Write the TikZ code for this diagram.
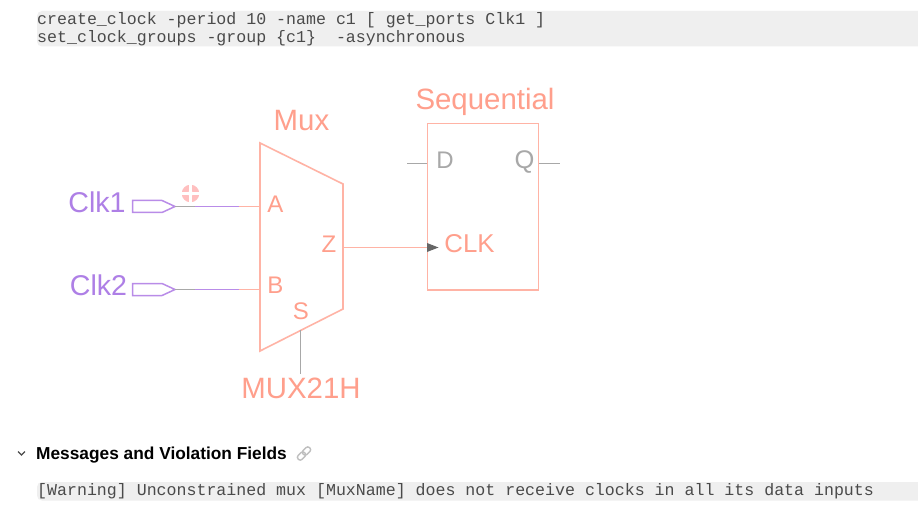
\documentclass[tikz,border=0pt]{standalone}
\usepackage{fontspec}
\setmainfont{Liberation Sans}
\setmonofont{Liberation Mono}
\definecolor{sal}{HTML}{FFB3A5}
\definecolor{saltxt}{HTML}{FF9F8C}
\definecolor{pur}{HTML}{B98CE8}
\definecolor{purtxt}{HTML}{AE7FE6}
\definecolor{gry}{HTML}{A8A8A8}
\definecolor{codebg}{HTML}{EFEFEF}
\definecolor{codetxt}{HTML}{4A4A4A}
\tikzset{
  lbl/.style={inner sep=0pt,anchor=base,font=\fontsize{24}{24}\selectfont},
  biglbl/.style={inner sep=0pt,anchor=base,font=\fontsize{29.4}{29.4}\selectfont},
  clklbl/.style={inner sep=0pt,anchor=base,text=purtxt,font=\fontsize{28.6}{29}\selectfont},
  sallbl/.style={lbl,text=saltxt},
  grylbl/.style={lbl,text=gry},
  code/.style={inner sep=0pt,anchor=base west,text=codetxt,font=\ttfamily\fontsize{16.6}{16.6}\selectfont},
  salline/.style={draw=sal,line width=1.6pt},
  purline/.style={draw=pur,line width=1.6pt},
  gryline/.style={draw=gry,line width=1.6pt},
  port/.style={draw=pur,line width=1.5pt,fill=white,line join=miter}
}
\begin{document}
\begin{tikzpicture}[x=1pt,y=-1pt]
\useasboundingbox (0,0) rectangle (918,513);
\fill[white] (0,0) rectangle (918,513);
% code blocks
\fill[codebg,rounded corners=5pt] (37,11) rectangle (930,46.5);
\node[code] (cmdone) at (37,24.7) {create\_clock -period 10 -name c1 [ get\_ports Clk1 ]};
\node[code] (cmdtwo) at (37,42.7) {set\_clock\_groups -group \{c1\}~~-asynchronous};
\fill[codebg,rounded corners=5pt] (37,482) rectangle (930,500.5);
\node[code] (warn) at (37,495.5) {[Warning] Unconstrained mux [MuxName] does not receive clocks in all its data inputs};
% heading
\draw[draw=black!70,line width=1.1pt] (18,451.5) -- (21.5,455) -- (25,451.5);
\node[inner sep=0pt,anchor=base west,font=\bfseries\fontsize{17.3}{18}\selectfont] (head) at (36,459) {Messages and Violation Fields};
\begin{scope}[shift={(304,453.5)},rotate=45,draw=black!25,line width=1.4pt]
  \draw[rounded corners=2.3pt] (-8,-2.7) rectangle (1,2.7);
  \draw[rounded corners=2.3pt] (-1,-2.7) rectangle (8,2.7);
\end{scope}
% mux and flop
\coordinate (muxA) at (260,206.5);
\coordinate (muxB) at (260,289.5);
\coordinate (muxZ) at (343,247.5);
\coordinate (muxS) at (300.5,330);
\coordinate (ffclk) at (427,247.5);
\coordinate (ffd) at (427,163.5);
\coordinate (ffq) at (539,163.5);
\path[salline,line join=miter] (260,143) -- (343,184) -- (343,309) -- (260,351) -- cycle;
\path[salline] (427.5,123.5) rectangle (538.5,290);
% clock ports
\path[port] (132.5,200.5) -- (162,200.5) -- (175,206.5) -- (162,212.5) -- (132.5,212.5) -- cycle;
\path[port] (132.5,283.5) -- (162,283.5) -- (175,289.5) -- (162,295.5) -- (132.5,295.5) -- cycle;
\coordinate (pa) at (175,206.5);
\coordinate (pb) at (175,289.5);
\coordinate (ga) at (195,206.5);
\coordinate (gb) at (195,289.5);
\coordinate (sa) at (239,206.5);
\coordinate (sb) at (239,289.5);
\path[gryline] (pa) -- (ga);
\path[purline] (ga) -- (sa);
\path[salline] (sa) -- (muxA);
\path[gryline] (pb) -- (gb);
\path[purline] (gb) -- (sb);
\path[salline] (sb) -- (muxB);
% Z to CLK
\path[salline] (muxZ) -- (ffclk);
\fill[black!60] (427,243) -- (438.5,247.5) -- (427,252) -- cycle;
% stubs
\coordinate (dfree) at (407,163.5);
\coordinate (qfree) at (560,163.5);
\coordinate (sfree) at (300.5,374);
\path[gryline] (dfree) -- (ffd);
\path[gryline] (ffq) -- (qfree);
\path[gryline] (muxS) -- (sfree);
% clock-constraint mark
\begin{scope}[shift={(190.5,193.5)}]
  \fill[red!25!white] (0,0) circle (8.8);
  \fill[white] (-1.2,-9.5) rectangle (1.2,9.5);
  \fill[white] (-9.5,-1.2) rectangle (9.5,1.2);
  \fill[white] (0,0) circle (2.6);
\end{scope}
% labels
\node[biglbl,text=saltxt] (lseq) at (485,110) {Sequential};
\node[biglbl,text=saltxt] (lmux) at (301.5,131) {Mux};
\node[biglbl,text=saltxt] (lmuxh) at (301,398) {MUX21H};
\node[clklbl] (lc1) at (97,212) {Clk1};
\node[clklbl] (lc2) at (98.5,295) {Clk2};
\node[sallbl] (la) at (275.5,212) {A};
\node[sallbl] (lb) at (275.5,293.5) {B};
\node[sallbl] (ls) at (301,319.5) {S};
\node[sallbl] (lz) at (329,252) {Z};
\node[sallbl,font=\fontsize{25.8}{26}\selectfont] (lclk) at (469.5,252.5) {CLK};
\node[grylbl] (ld) at (445,169) {D};
\node[grylbl,font=\fontsize{25.5}{26}\selectfont] (lq) at (524.5,169) {Q};
\end{tikzpicture}
\end{document}
